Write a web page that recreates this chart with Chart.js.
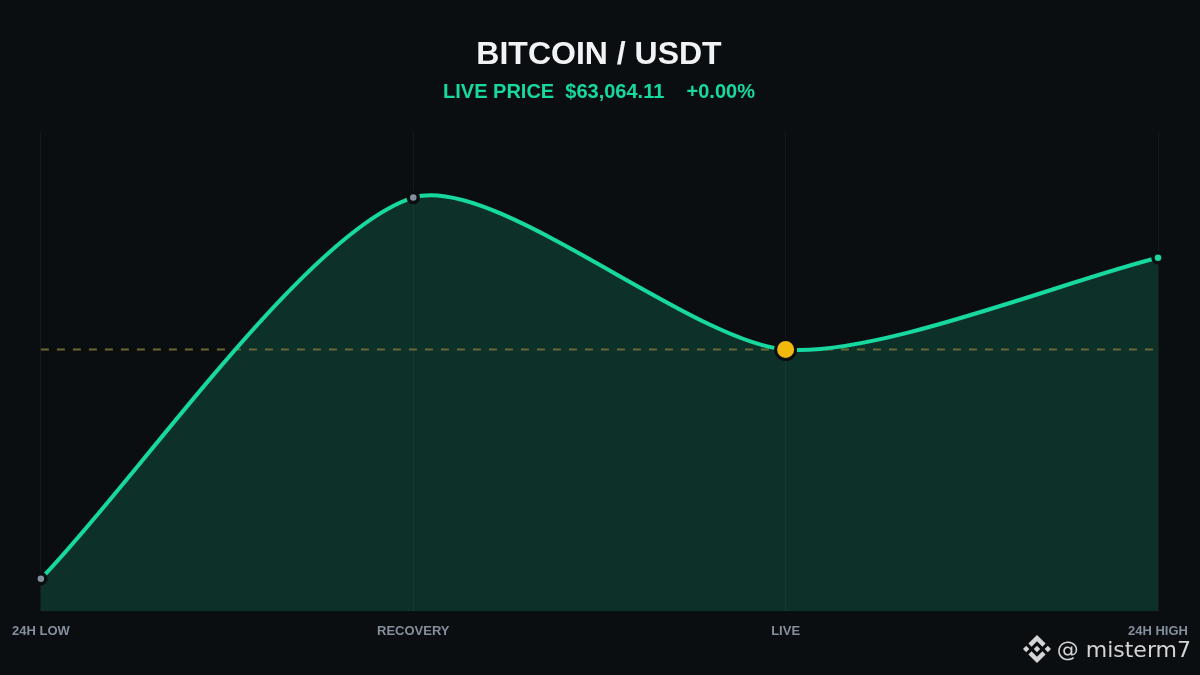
<!DOCTYPE html>
<html>
<head>
<meta charset="utf-8">
<script src="https://cdn.jsdelivr.net/npm/chart.js@4.4.1/dist/chart.umd.min.js"></script>
<style>
    html, body { margin: 0; padding: 0; background: #0b0e11; }
    #wrap { position: relative; width: 1200px; height: 675px; }
    #brand {
        position: absolute; right: 9px; bottom: 12px;
        display: flex; align-items: center; gap: 6px;
        font-family: "DejaVu Sans", sans-serif; font-size: 22px; color: #d4d4d4;
    }
</style>
</head>
<body>
<div id="wrap">
    <canvas id="btcChart" width="1200" height="675"></canvas>
    <div id="brand">
        <svg width="28" height="28" viewBox="0 0 126.61 126.61">
            <g fill="#d4d4d4">
                <path d="M38.73 53.2 63.3 28.64 87.89 53.22l14.3-14.3L63.3 0 24.42 38.88Z"/>
                <path d="M0 63.31l14.3-14.3 14.3 14.3L14.3 77.6Z"/>
                <path d="M38.73 73.41 63.3 98l24.59-24.59 14.31 14.29L63.3 126.61 24.42 87.73Z"/>
                <path d="M98 63.31l14.3-14.3 14.3 14.3L112.32 77.6Z"/>
                <path d="M77.83 63.3 63.3 48.76 48.78 63.27 63.3 77.78Z"/>
            </g>
        </svg>
        <span>@ misterm7</span>
    </div>
</div>
<script>
// price points (USDT)
const labels = ['24H LOW', 'RECOVERY', 'LIVE', '24H HIGH'];
const prices = [62150, 63670, 63064.11, 63430];
const livePrice = 63064.11;
const changePct = 0.00;
const liveLine = [livePrice, livePrice, livePrice, livePrice];

const green = '#17d9a0';
const bg = '#0b0e11';

const fmt = (v) => '$' + v.toLocaleString('en-US', { minimumFractionDigits: 2, maximumFractionDigits: 2 });

const ctx = document.getElementById('btcChart').getContext('2d');

new Chart(ctx, {
    type: 'line',
    data: {
        labels: labels,
        datasets: [
            {
                data: prices,
                borderColor: green,
                borderWidth: 4,
                tension: 0.25,
                fill: 'origin',
                backgroundColor: 'rgba(23,217,160,0.17)',
                pointRadius: [5, 5, 10, 5],
                pointBackgroundColor: ['#848e9c', '#848e9c', '#f0b90b', green],
                pointBorderColor: bg,
                pointBorderWidth: [3.5, 3.5, 3, 3.5],
                clip: false,
                order: 1
            },
            {
                data: liveLine,
                borderColor: '#6a6832',
                borderWidth: 2,
                borderDash: [8, 8],
                pointRadius: 0,
                fill: false,
                order: 2
            }
        ]
    },
    options: {
        responsive: false,
        animation: false,
        layout: {
            padding: { left: 40, right: 42, top: 0, bottom: 24 }
        },
        plugins: {
            legend: { display: false },
            tooltip: { enabled: false },
            filler: { drawTime: 'beforeDatasetsDraw' },
            title: {
                display: true,
                text: 'BITCOIN / USDT',
                color: '#f2f3f5',
                font: { family: 'Liberation Sans', size: 32, weight: 'bold' },
                padding: { top: 36, bottom: 6 }
            },
            subtitle: {
                display: true,
                text: 'LIVE PRICE  ' + fmt(livePrice) + '    +' + changePct.toFixed(2) + '%',
                color: green,
                font: { family: 'Liberation Sans', size: 20, weight: 'bold' },
                padding: { top: 0, bottom: 28 }
            }
        },
        scales: {
            x: {
                offset: false,
                grid: {
                    color: 'rgba(255,255,255,0.05)',
                    drawTicks: false
                },
                border: { display: false },
                ticks: {
                    color: '#848e9c',
                    padding: 12,
                    maxRotation: 0,
                    font: { family: 'Liberation Sans', size: 13, weight: 'bold' }
                }
            },
            y: {
                display: false,
                min: 62020,
                max: 63930
            }
        }
    }
});
</script>
</body>
</html>
